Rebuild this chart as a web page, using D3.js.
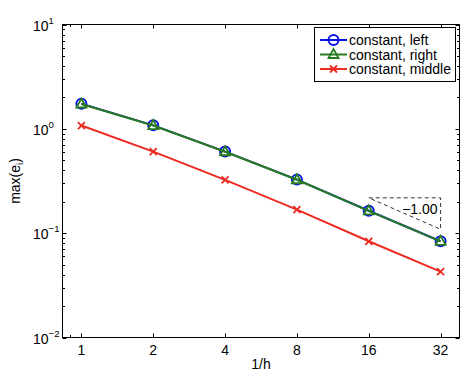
<!DOCTYPE html>
<html lang="en">
<head>
    <meta charset="UTF-8">
    <title>max(e_i) vs 1/h</title>
    <script src="https://d3js.org/d3.v7.min.js"></script>
    <style>
        body { margin: 0; background: #fff; }
        svg { display: block; font-family: "Liberation Sans", Arial, sans-serif; }
        .tick-label { font-size: 14px; fill: #000; }
    </style>
</head>
<body>
<svg width="474" height="377"></svg>
<script>
// data
const xTicks = [1, 2, 4, 8, 16, 32];
const xMinorTicks = [0.9];
const yTickExps = [-2, -1, 0, 1];
const seriesNames = ["constant, left", "constant, right", "constant, middle"];
const leftVals = [1.74, 1.08, 0.605, 0.326, 0.164, 0.0836];
const rightVals = [1.73, 1.075, 0.603, 0.325, 0.1635, 0.0834];
const middleVals = [1.076, 0.605, 0.324, 0.168, 0.0836, 0.0428];
// slope triangle: from x=16 to x=32, starting at y=0.218, slope -1
const slopeX = [16, 32];
const slopeY0 = 0.218;
const slopeValue = -1.00;

const width = 474, height = 377;
const svg = d3.select("svg");

const x = d3.scaleLog().base(2).domain([1 / 1.2, 32 * 1.2]).range([62.5, 459.5]);
const y = d3.scaleLog().domain([0.01, 10]).range([337.5, 24.5]);
const x0 = x.range()[0], x1 = x.range()[1];
const y0 = y.range()[0], y1 = y.range()[1];

// ticks (inward, on all four sides)
const tickG = svg.append("g").attr("stroke", "#000").attr("stroke-width", 1);
xTicks.forEach(t => {
    const px = Math.round(x(t)) + 0.5;
    tickG.append("line").attr("x1", px).attr("x2", px).attr("y1", y0).attr("y2", y0 - 4);
    tickG.append("line").attr("x1", px).attr("x2", px).attr("y1", y1).attr("y2", y1 + 4);
});
xMinorTicks.forEach(t => {
    const px = Math.round(x(t)) + 0.5;
    tickG.append("line").attr("x1", px).attr("x2", px).attr("y1", y0).attr("y2", y0 - 2.5);
    tickG.append("line").attr("x1", px).attr("x2", px).attr("y1", y1).attr("y2", y1 + 2.5);
});
yTickExps.forEach(e => {
    const py = Math.round(y(Math.pow(10, e))) + 0.5;
    tickG.append("line").attr("x1", x0).attr("x2", x0 + 4).attr("y1", py).attr("y2", py);
    tickG.append("line").attr("x1", x1).attr("x2", x1 - 4).attr("y1", py).attr("y2", py);
    if (e < 1) {
        for (let m = 2; m <= 9; m++) {
            const my = Math.round(y(m * Math.pow(10, e))) + 0.5;
            tickG.append("line").attr("x1", x0).attr("x2", x0 + 2.5).attr("y1", my).attr("y2", my);
            tickG.append("line").attr("x1", x1).attr("x2", x1 - 2.5).attr("y1", my).attr("y2", my);
        }
    }
});

// frame
svg.append("rect")
    .attr("x", x0).attr("y", y1)
    .attr("width", x1 - x0).attr("height", y0 - y1)
    .attr("fill", "none").attr("stroke", "#000").attr("stroke-width", 1);

// x tick labels
svg.append("g").selectAll("text")
    .data(xTicks)
    .join("text")
    .attr("class", "tick-label")
    .attr("x", d => x(d))
    .attr("y", 355)
    .attr("text-anchor", "middle")
    .text(d => d);

// y tick labels (10^e)
yTickExps.forEach(e => {
    const t = svg.append("text")
        .attr("class", "tick-label")
        .attr("x", 33)
        .attr("y", y(Math.pow(10, e)) + 6);
    t.append("tspan").text("10");
    t.append("tspan")
        .attr("dy", -7)
        .attr("font-size", 9.5)
        .text(e < 0 ? "\u2212" + (-e) : String(e));
});

// axis labels
svg.append("text")
    .attr("class", "tick-label")
    .attr("x", 261).attr("y", 369)
    .attr("text-anchor", "middle")
    .text("1/h");

const yl = svg.append("text")
    .attr("class", "tick-label")
    .attr("transform", "translate(20,181) rotate(-90)")
    .attr("text-anchor", "middle");
yl.append("tspan").text("max(e");
yl.append("tspan").attr("font-size", 9.5).attr("dy", 3).text("i");
yl.append("tspan").attr("dy", -3).text(")");

// slope triangle
const sx0 = x(slopeX[0]), sx1 = x(slopeX[1]);
const sy0 = y(slopeY0), sy1 = y(slopeY0 * Math.pow(slopeX[1] / slopeX[0], slopeValue));
svg.append("path")
    .attr("d", `M${sx0},${sy0}L${sx1},${sy0}L${sx1},${sy1}Z`)
    .attr("fill", "none")
    .attr("stroke", "#000")
    .attr("stroke-width", 0.8)
    .attr("stroke-dasharray", "4,3");
svg.append("text")
    .attr("class", "tick-label")
    .attr("x", sx1 - 3)
    .attr("y", sy0 + 16)
    .attr("text-anchor", "end")
    .text("\u2212" + Math.abs(slopeValue).toFixed(2));

// series
const series = [
    { name: seriesNames[0], values: leftVals, color: "#0a14e6", marker: "circle" },
    { name: seriesNames[1], values: rightVals, color: "#267a1f", marker: "triangle" },
    { name: seriesNames[2], values: middleVals, color: "#ec2b22", marker: "cross" }
];

const line = d3.line().x((d, i) => x(xTicks[i])).y(d => y(d));

function drawMarker(g, type, cx, cy, color) {
    if (type === "circle") {
        g.append("circle").attr("cx", cx).attr("cy", cy).attr("r", 5)
            .attr("fill", "none").attr("stroke", color).attr("stroke-width", 2);
    } else if (type === "triangle") {
        g.append("path")
            .attr("d", `M${cx},${cy - 5.5}L${cx + 5},${cy + 3.5}L${cx - 5},${cy + 3.5}Z`)
            .attr("fill", "none").attr("stroke", color).attr("stroke-width", 1.8);
    } else {
        const r = 3.5;
        g.append("path")
            .attr("d", `M${cx - r},${cy - r}L${cx + r},${cy + r}M${cx - r},${cy + r}L${cx + r},${cy - r}`)
            .attr("stroke", color).attr("stroke-width", 1.8);
    }
}

series.forEach(s => {
    const g = svg.append("g");
    g.append("path")
        .datum(s.values)
        .attr("d", line)
        .attr("fill", "none")
        .attr("stroke", s.color)
        .attr("stroke-width", 2);
    s.values.forEach((v, i) => drawMarker(g, s.marker, x(xTicks[i]), y(v), s.color));
});

// legend
const lg = svg.append("g");
lg.append("rect")
    .attr("x", 314.5).attr("y", 27.5).attr("width", 141).attr("height", 54)
    .attr("fill", "#fff").attr("stroke", "#000").attr("stroke-width", 1);
series.forEach((s, i) => {
    const ly = 40 + i * 14.5;
    lg.append("line")
        .attr("x1", 320).attr("x2", 347).attr("y1", ly).attr("y2", ly)
        .attr("stroke", s.color).attr("stroke-width", 2);
    drawMarker(lg, s.marker, 333.5, ly, s.color);
    lg.append("text")
        .attr("class", "tick-label")
        .attr("x", 349).attr("y", ly + 5)
        .text(s.name);
});
</script>
</body>
</html>
